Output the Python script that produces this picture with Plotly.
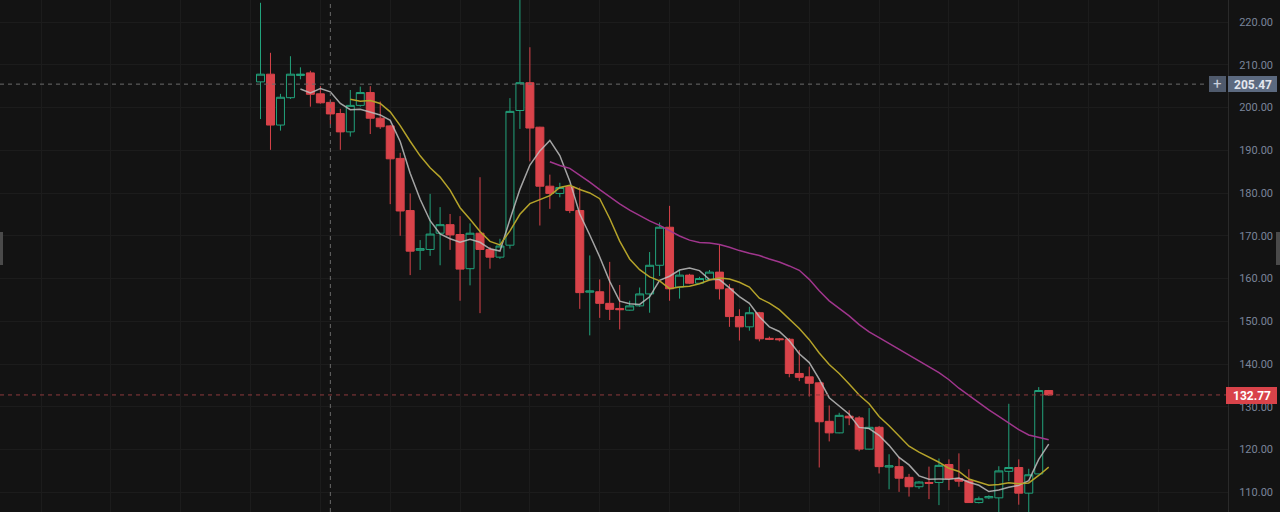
import plotly.graph_objects as go
import pandas as pd

# ---- data ----
opens = [206.0, 207.8, 195.9, 202.3, 207.5, 208.1, 203.2, 201.2, 198.6, 194.3,
         200.5, 203.5, 197.5, 195.7, 188.1, 175.9, 166.6, 166.8, 170.6, 172.6,
         170.3, 162.3, 170.6, 166.8, 165.0, 167.8, 199.3, 205.8, 195.4, 181.6,
         179.9, 181.5, 175.9, 156.8, 156.9, 154.2, 153.0, 152.6, 153.6, 156.4,
         163.1, 172.0, 158.0, 160.8, 158.9, 159.8, 161.5, 157.6, 151.1, 148.7,
         152.0, 146.0, 145.9, 145.8, 137.8, 137.0, 135.6, 126.6, 123.9, 127.8,
         127.4, 120.1, 125.2, 115.9, 116.0, 113.5, 111.3, 112.3, 112.3, 116.5,
         113.2, 112.7, 107.6, 108.7, 108.7, 114.9, 115.8, 109.8, 114.3, 133.8]
highs = [224.5, 212.8, 203.2, 212.0, 209.4, 208.6, 205.0, 201.9, 199.7, 204.1,
         204.9, 205.0, 201.4, 195.9, 189.4, 179.9, 169.0, 179.8, 176.7, 175.1,
         174.6, 172.9, 183.7, 167.4, 169.3, 202.2, 226.0, 214.1, 195.5, 184.3,
         182.4, 181.8, 181.3, 165.4, 159.8, 163.9, 158.5, 154.8, 157.9, 166.2,
         173.1, 177.0, 162.0, 161.1, 160.4, 162.0, 167.9, 158.7, 152.8, 153.4,
         152.2, 146.4, 146.1, 146.1, 143.3, 139.4, 135.8, 130.3, 128.6, 129.2,
         127.8, 129.7, 125.5, 118.9, 118.2, 114.3, 112.6, 116.0, 117.9, 117.7,
         119.1, 115.4, 109.0, 109.3, 116.1, 130.7, 117.7, 115.5, 134.6, 133.9]
lows = [197.3, 190.1, 194.6, 202.0, 206.6, 200.2, 200.9, 196.1, 190.1, 193.2,
        200.2, 193.8, 195.0, 177.4, 170.0, 160.8, 162.0, 165.3, 163.1, 166.7,
        154.8, 158.4, 151.9, 162.3, 164.6, 167.0, 195.0, 187.4, 172.4, 176.3,
        179.0, 175.3, 152.9, 146.7, 150.8, 150.3, 148.1, 152.5, 153.4, 152.0,
        160.6, 154.8, 155.3, 158.7, 158.7, 159.7, 155.1, 148.7, 145.5, 147.8,
        145.3, 145.6, 145.3, 136.9, 136.0, 132.4, 115.8, 121.9, 123.8, 125.7,
        119.6, 120.0, 114.4, 110.7, 110.1, 109.0, 110.8, 108.4, 107.0, 110.5,
        111.3, 107.5, 107.4, 108.4, 104.5, 112.6, 107.1, 104.0, 114.2, 132.6]
closes = [207.8, 195.9, 202.4, 207.8, 207.8, 203.1, 201.1, 198.5, 194.3, 200.5,
          203.5, 197.5, 195.5, 188.0, 175.8, 166.4, 167.0, 170.4, 172.6, 170.2,
          162.2, 170.6, 166.8, 165.0, 167.6, 199.1, 205.8, 195.2, 181.6, 179.9,
          181.3, 175.9, 156.7, 157.1, 154.2, 152.8, 152.7, 153.6, 156.4, 163.1,
          172.0, 157.6, 160.8, 158.9, 160.0, 161.5, 157.6, 151.1, 148.7, 152.0,
          145.9, 145.8, 145.7, 137.8, 136.9, 135.5, 126.5, 123.9, 128.0, 127.4,
          120.1, 125.2, 116.0, 116.2, 113.3, 111.3, 112.4, 112.1, 116.3, 113.2,
          112.6, 107.6, 108.5, 109.0, 115.0, 115.8, 109.8, 114.1, 133.8, 132.77]
bar_index = list(range(len(closes)))
ma_periods = [5, 10, 30]
y_ticks = [110, 120, 130, 140, 150, 160, 170, 180, 190, 200, 210, 220]
CROSS_INDEX = 7
CROSS_PRICE = 205.47
LAST_PRICE = closes[-1]

# ---- style ----
BG = "#131313"
GRID = "#1c1c1c"
UP = "#22a37c"
DOWN = "#d9434a"
MA_COLORS = {5: "rgba(190,190,190,0.85)", 10: "#b5a32a", 30: "#a0368d"}
W, H = 1280, 512
PLOT_W = 1228

fig = go.Figure()
fig.add_trace(go.Candlestick(
    x=bar_index, open=opens, high=highs, low=lows, close=closes,
    increasing=dict(line=dict(color=UP, width=1), fillcolor=BG),
    decreasing=dict(line=dict(color=DOWN, width=1), fillcolor=DOWN),
    whiskerwidth=0, hoverinfo="skip", showlegend=False,
))

close_s = pd.Series(closes)
for p in ma_periods:
    ma = close_s.rolling(p).mean()
    fig.add_trace(go.Scatter(
        x=bar_index, y=ma, mode="lines",
        line=dict(color=MA_COLORS[p], width=1.5),
        hoverinfo="skip", showlegend=False,
    ))

def px_x(p):
    return p / PLOT_W

def px_y(p):
    return 1 - p / H

shapes = [
    # crosshair
    dict(type="line", xref="x", yref="paper", x0=CROSS_INDEX, x1=CROSS_INDEX, y0=0, y1=1,
         line=dict(color="#6b6b6b", width=1, dash="4px,4px")),
    dict(type="line", xref="paper", yref="y", x0=0, x1=px_x(1208), y0=CROSS_PRICE, y1=CROSS_PRICE,
         line=dict(color="#6b6b6b", width=1, dash="4px,4px")),
    # last price line
    dict(type="line", xref="paper", yref="y", x0=0, x1=1, y0=LAST_PRICE, y1=LAST_PRICE,
         line=dict(color="#8e3a3d", width=1, dash="4px,4px")),
    # price label boxes
    dict(type="rect", xref="paper", yref="paper", x0=px_x(1209), x1=px_x(1226),
         y0=px_y(92), y1=px_y(76), fillcolor="#4f5a6c", line=dict(width=0), layer="above"),
    dict(type="rect", xref="paper", yref="paper", x0=px_x(1228), x1=px_x(1277),
         y0=px_y(92), y1=px_y(76), fillcolor="#5c6a80", line=dict(width=0), layer="above"),
    dict(type="rect", xref="paper", yref="paper", x0=px_x(1226), x1=px_x(1277),
         y0=px_y(404), y1=px_y(387), fillcolor="#d9434a", line=dict(width=0), layer="above"),
    # edge handles
    dict(type="rect", xref="paper", yref="paper", x0=0, x1=px_x(3),
         y0=px_y(265), y1=px_y(232), fillcolor="#4a4a4a", line=dict(width=0), layer="above"),
    dict(type="rect", xref="paper", yref="paper", x0=px_x(1276), x1=px_x(1280),
         y0=px_y(265), y1=px_y(232), fillcolor="#4a4a4a", line=dict(width=0), layer="above"),
]

annotations = [
    dict(xref="paper", yref="paper", x=px_x(1217.5), y=px_y(84), text="+", showarrow=False,
         font=dict(family="Roboto", size=15, color="#c9d0dc"), xanchor="center", yanchor="middle"),
    dict(xref="paper", yref="paper", x=px_x(1252.5), y=px_y(84.5), text=f"{CROSS_PRICE:.2f}",
         showarrow=False, font=dict(family="Roboto", size=12, color="#e3e7ee", weight="bold"),
         xanchor="center", yanchor="middle"),
    dict(xref="paper", yref="paper", x=px_x(1251.5), y=px_y(395.5), text=f"{LAST_PRICE:.2f}",
         showarrow=False, font=dict(family="Roboto", size=12, color="#ffffff", weight="bold"),
         xanchor="center", yanchor="middle"),
]

fig.update_layout(
    width=W, height=H,
    margin=dict(l=0, r=W - PLOT_W, t=0, b=0, pad=0),
    paper_bgcolor=BG, plot_bgcolor=BG,
    boxgap=0.2, boxgroupgap=0,
    showlegend=False,
    hovermode=False,
    shapes=shapes,
    annotations=annotations,
    xaxis=dict(
        range=[-26.11, 96.97], showticklabels=False, showgrid=True, gridcolor=GRID, gridwidth=1,
        tick0=-1, dtick=7, zeroline=False, rangeslider=dict(visible=False), fixedrange=True,
    ),
    yaxis=dict(
        side="right", range=[105.39, 225.15], tickvals=y_ticks,
        ticktext=[f"{v:.2f}" for v in y_ticks],
        showgrid=True, gridcolor=GRID, gridwidth=1, zeroline=False,
        showline=True, linecolor="#2a2a2a", linewidth=1,
        ticks="", ticklabelstandoff=8,
        tickfont=dict(family="Roboto", size=11, color="#7a849a"),
        fixedrange=True,
    ),
)

fig.write_html(
    "out.html",
    config={"displayModeBar": False},
    post_script="document.body.style.margin='0';document.body.style.background='" + BG + "';",
)
